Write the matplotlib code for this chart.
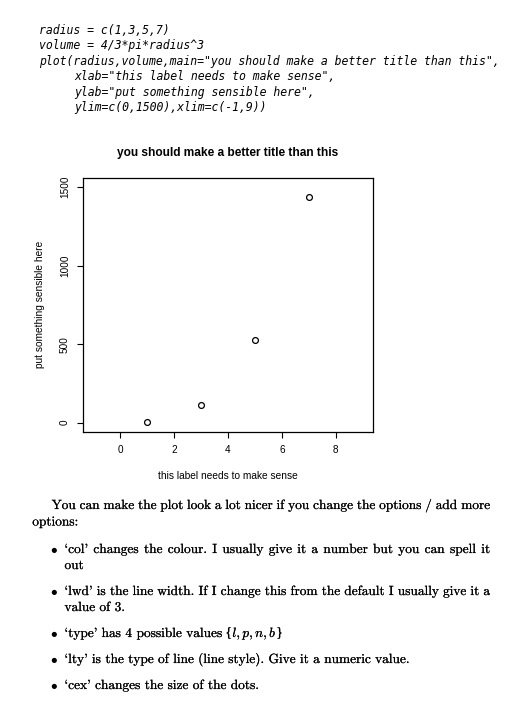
import matplotlib
matplotlib.use("Agg")
import matplotlib.pyplot as plt
import matplotlib.patheffects as pe

# data
radius = [1, 3, 5, 7]
volume = [4.2, 113.1, 523.6, 1436.8]
x_ticks = [0, 2, 4, 6, 8]
y_ticks = [0, 500, 1000, 1500]

title = "you should make a better title than this"
x_label = "this label needs to make sense"
y_label = "put something sensible here"

code_lines = [
    ("radius = c(1,3,5,7)", 0),
    ("volume = 4/3*pi*radius^3", 0),
    ('plot(radius,volume,main="you should make a better title than this",', 0),
    ('xlab="this label needs to make sense",', 1),
    ('ylab="put something sensible here",', 1),
    ("ylim=c(0,1500),xlim=c(-1,9))", 1),
]

# (text, left px, baseline px, justify?, bullet?)
body_lines = [
    ("You can make the plot look a lot nicer if you change the options / add more", 51.7, 509, True, False),
    ("options:", 32.3, 525.5, False, False),
    ("`col' changes the colour. I usually give it a number but you can spell it", 64.5, 553, True, True),
    ("out", 64.5, 569, False, False),
    ("`lwd' is the line width. If I change this from the default I usually give it a", 64.5, 595, True, True),
    ("value of 3.", 64.5, 611, False, False),
    ("`type' has 4 possible values", 64.5, 637, False, True),
    ("`lty' is the type of line (line style). Give it a numeric value.", 64.5, 663, False, True),
    ("`cex' changes the size of the dots.", 64.5, 689, False, True),
]
type_values = "l, p, n, b"

W, H = 514, 708
plt.rcParams["mathtext.fontset"] = "cm"
fig = plt.figure(figsize=(W / 100, H / 100), dpi=100)
renderer = fig.canvas.get_renderer()

# printed page text is a touch heavier than plain antialiased glyphs
heavy = [pe.withStroke(linewidth=0.12, foreground="black")]


def fx(x):
    return x / W


def fy(y):
    return 1 - y / H


# code block at the top
code_fs = 8.3
for i, (txt, indent) in enumerate(code_lines):
    x = 39.3 + indent * 35.0
    fig.text(fx(x), fy(34 + i * 15.5), txt, family="DejaVu Sans Mono", style="oblique",
             fontsize=code_fs, va="baseline", ha="left", color="black")

# the R plot
ax = fig.add_axes([82.7 / W, 1 - 432 / H, (373.3 - 82.7) / W, (432 - 177.7) / H])
ax.plot(radius, volume, "o", mfc="none", mec="black", ms=4.2, mew=0.9)
ax.set_xlim(-1.4, 9.4)
ax.set_ylim(-60, 1560)
ax.set_xticks(x_ticks)
ax.set_yticks(y_ticks)
for s in ax.spines.values():
    s.set_linewidth(0.9)
ax.tick_params(length=4.3, width=0.8, labelsize=7.2, pad=5)
for lab in ax.get_xticklabels():
    lab.set_family("Liberation Sans")
for lab in ax.get_yticklabels():
    lab.set_family("Liberation Sans")
    lab.set_rotation(90)
    lab.set_va("center")
ax.text(0.5, 1.096, title, transform=ax.transAxes, ha="center", va="center",
        fontsize=8.6, fontweight="bold", family="Liberation Sans")
ax.set_xlabel(x_label, fontsize=7.3, family="Liberation Sans")
ax.xaxis.set_label_coords(0.5, -0.172)
ax.xaxis.label.set_va("center")
ax.set_ylabel(y_label, fontsize=7.3, family="Liberation Sans")
ax.yaxis.set_label_coords(-0.147, 0.5)
ax.yaxis.label.set_va("center")

# body text, set word by word so full lines can be justified
body_fs = 9.6
space = 0.333 * body_fs * 100 / 72
right_edge = 490


def text_width(s, **kw):
    t = fig.text(0, 0, s, fontsize=body_fs, **kw)
    wd = t.get_window_extent(renderer).width
    t.remove()
    return wd


def put(x, y, s, **kw):
    fig.text(fx(x), fy(y), s, va="baseline", ha="left", path_effects=heavy, **kw)


for txt, x0, y, justify, bullet in body_lines:
    words = txt.split(" ")
    widths = [text_width(w, family="cmr10") for w in words]
    gap = space
    if justify and len(words) > 1:
        gap = (right_edge - x0 - sum(widths)) / (len(words) - 1)
    x = x0
    for w, wd in zip(words, widths):
        put(x, y, w, family="cmr10", fontsize=body_fs)
        x += wd + gap
    if txt.startswith("`type'"):
        # set {l, p, n, b} with plain braces around the math italic letters
        x -= gap * 0.3
        put(x, y, "{", family="Liberation Serif", fontsize=body_fs + 0.6)
        x += text_width("{", family="Liberation Serif") + 0.6
        inner = "$" + type_values + "$"
        put(x, y, inner, fontsize=body_fs)
        x += text_width(inner) - 0.6
        put(x, y, "}", family="Liberation Serif", fontsize=body_fs + 0.6)
    if bullet:
        fig.text(fx(53.5), fy(y), r"$\bullet$", fontsize=body_fs, va="baseline", ha="center")

fig.savefig("out.png", dpi=100)
